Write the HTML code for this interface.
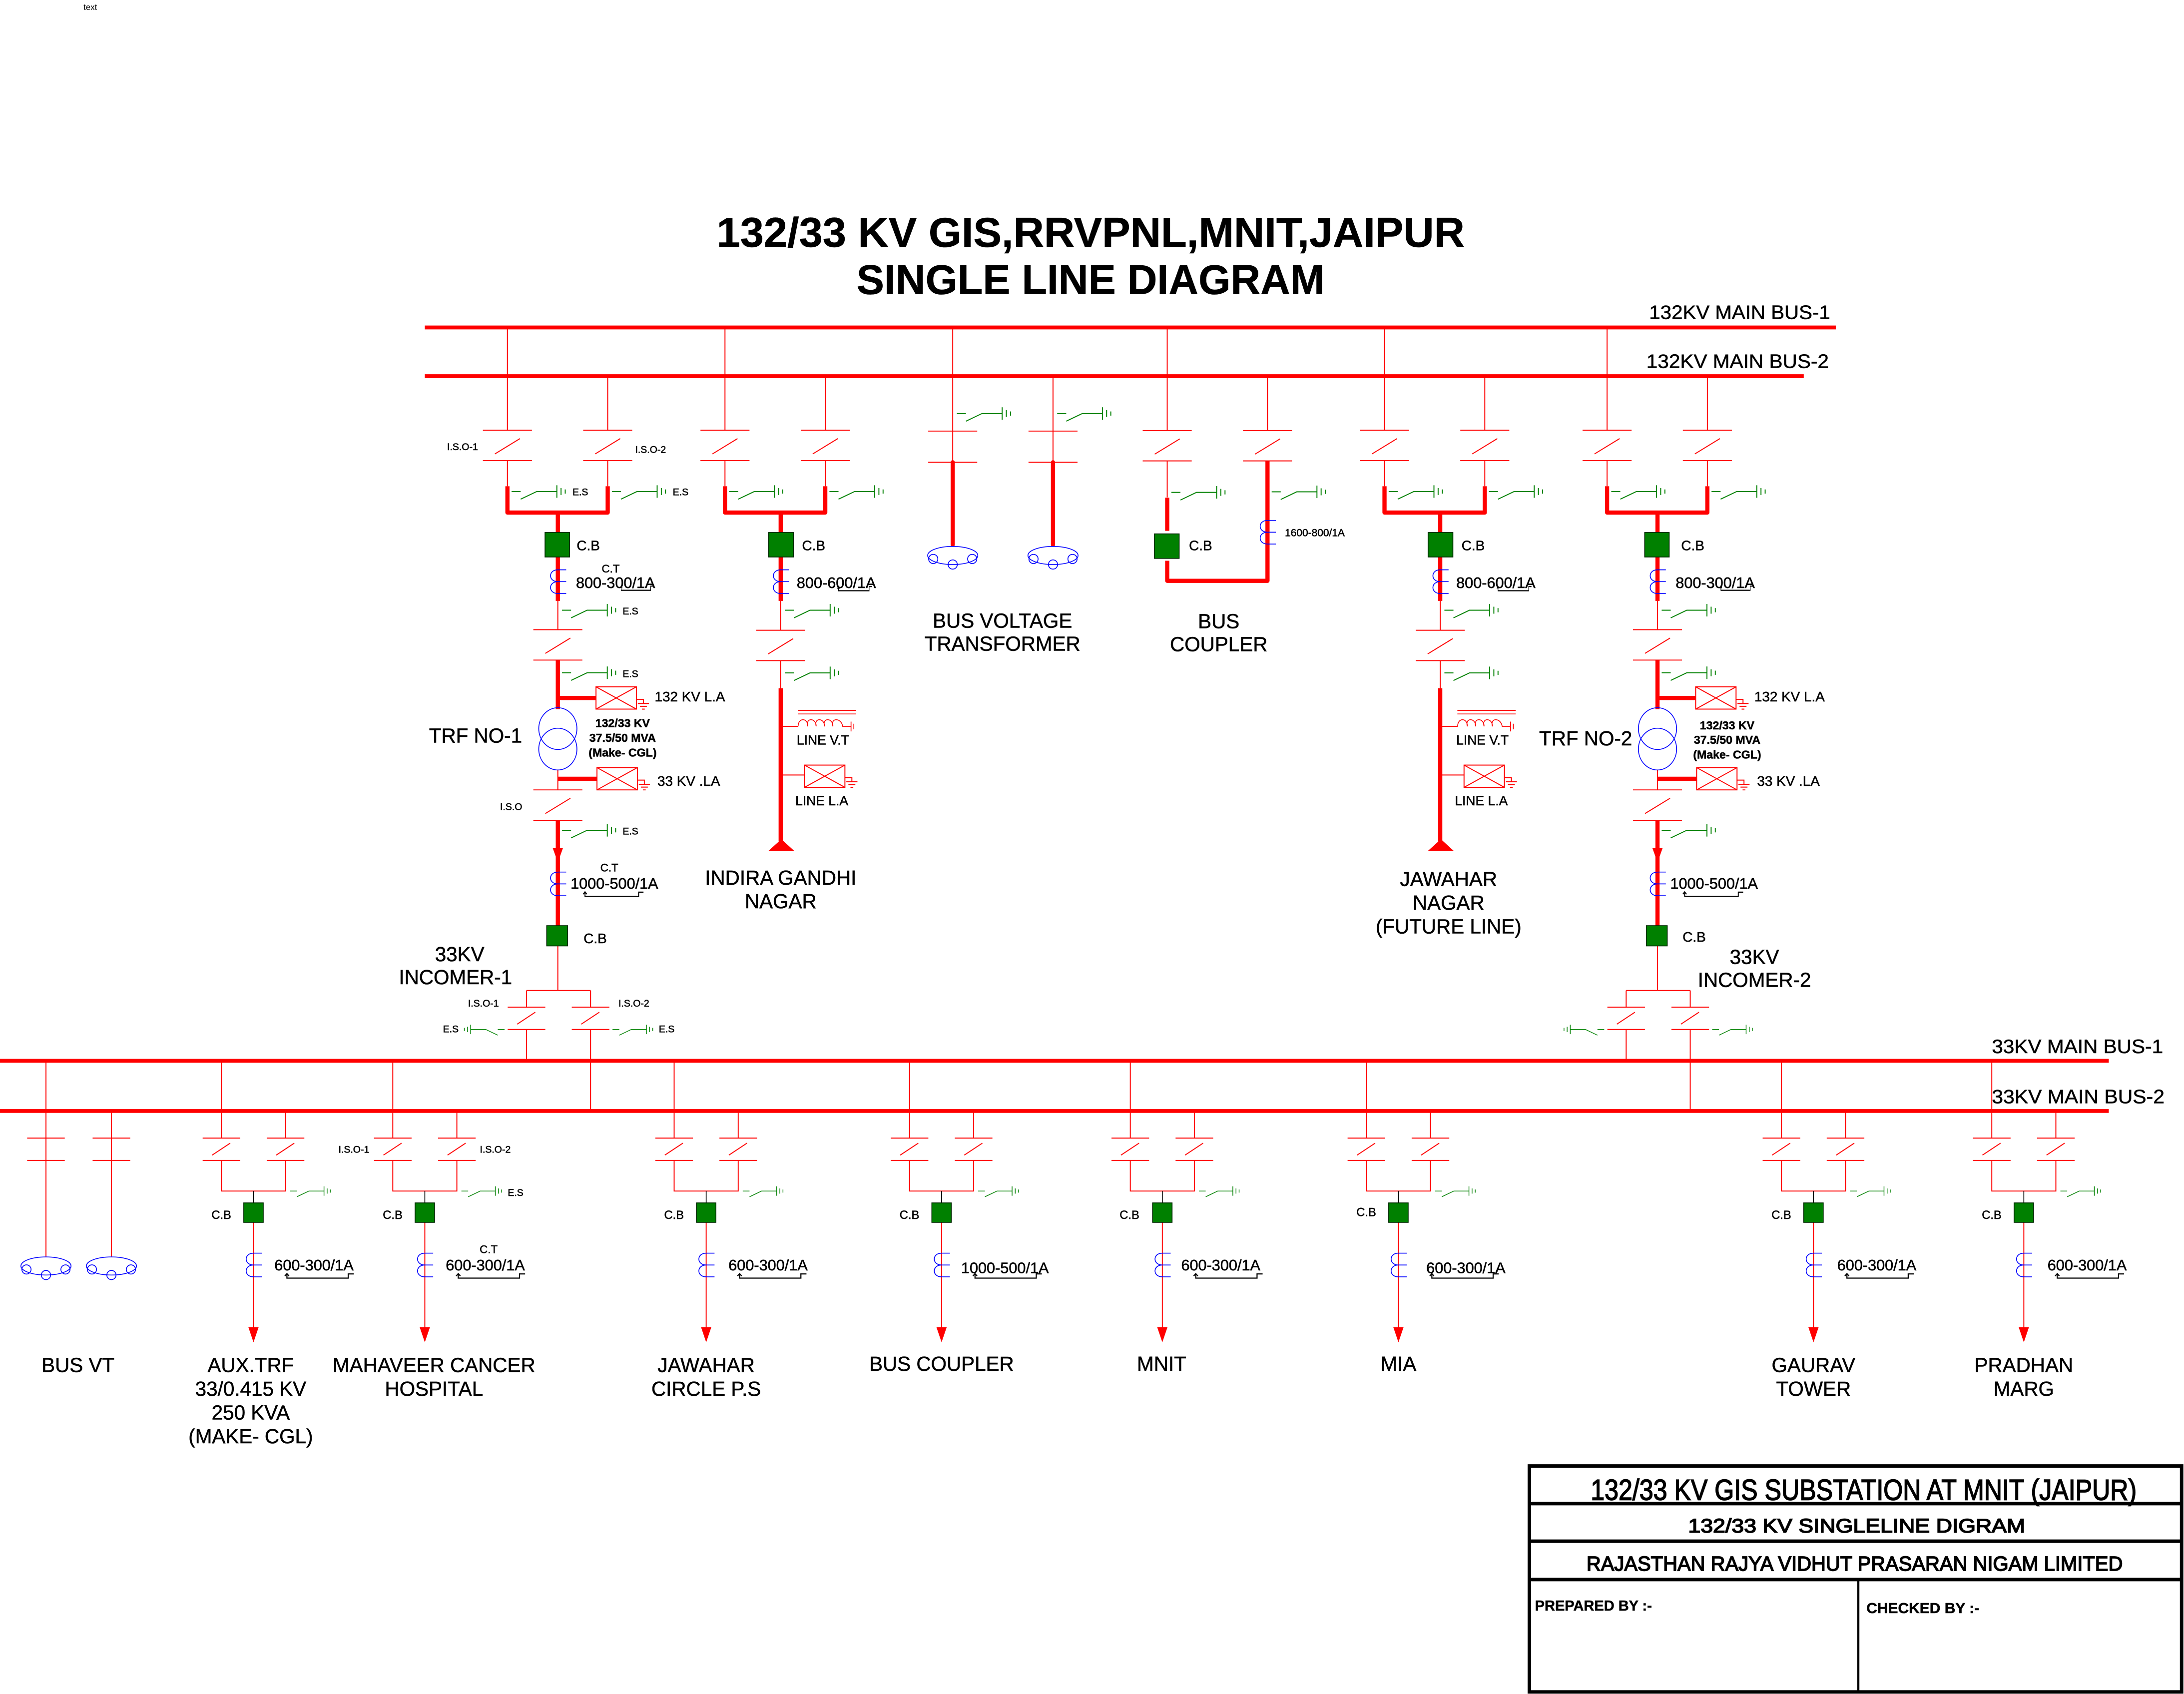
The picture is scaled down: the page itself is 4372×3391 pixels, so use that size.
<!DOCTYPE html>
<html><head><meta charset="utf-8"><style>
html,body{margin:0;padding:0;background:#fff}
svg{display:block}
text{font-family:"Liberation Sans",Arial,sans-serif;fill:#000;stroke:#000;stroke-width:0.2}
.tb{stroke-width:0.6}
</style></head><body>
<svg width="4372" height="3391" viewBox="0 0 1568 1216" xmlns="http://www.w3.org/2000/svg">
<defs>
<g id="es" fill="none" stroke="#008000" stroke-width="0.7"><path d="M3,0H9.5 M9.5,5.5L21,0H35.5 M35.5,-4.5V4.5 M38.5,-2.5V2.5 M41.5,-1.5V1.5"/></g>
<g id="iso" fill="none" stroke="#ff0000" stroke-width="0.7"><path d="M-17.6,0H17.6 M-17.6,21.8H17.6 M-9,17L9,6"/></g>
<g id="isoN" fill="none" stroke="#ff0000" stroke-width="0.7"><path d="M-17.6,0H17.6 M-17.6,22.4H17.6"/></g>
<g id="iso33" fill="none" stroke="#ff0000" stroke-width="0.7"><path d="M-13.5,0H13.5 M-13.5,16H13.5 M-6.7,12.2L6.3,3.6"/></g>
<g id="iso33N" fill="none" stroke="#ff0000" stroke-width="0.7"><path d="M-13.5,0H13.5 M-13.5,16H13.5"/></g>
<g id="la" fill="none" stroke="#ff0000" stroke-width="0.7"><rect x="0" y="-8" width="29" height="16"/><path d="M0,-8L29,8 M0,8L29,-8 M29,1H34V4 M30,4H38 M31.5,6H36.5 M33,8H35"/></g>
<g id="ct" fill="none" stroke="#0000ff" stroke-width="0.6"><path d="M6,0H0 C-7,0 -7,8.5 0,8.5 H6 M0,8.5 C-7,8.5 -7,17 0,17 H6"/></g>
<g id="ctu" fill="none" stroke="#000" stroke-width="0.8"><path d="M0,-3V0H44V-3H48 M-1.5,-1.5L0,-3.2L1.5,-1.5"/></g>
<g id="vt" fill="none" stroke="#0000ff" stroke-width="0.6"><ellipse cx="0" cy="0" rx="18" ry="6.5"/><circle cx="-14" cy="2.5" r="3.3"/><circle cx="0" cy="6.5" r="3.3"/><circle cx="14" cy="2.5" r="3.3"/></g>
<g id="fdr">
<path d="M-23,761.5V817 M23,797.5V817 M-23,833V855H23V833 M0,877.6V953" fill="none" stroke="#ff0000" stroke-width="0.7"/>
<use href="#iso33" x="-23" y="817"/><use href="#iso33" x="23" y="817"/>
<path d="M0,855V863.5" stroke="#000" stroke-width="0.6"/>
<rect x="-7" y="863.5" width="14" height="14" fill="#008000" stroke="#002800" stroke-width="0.6"/>
<use href="#ct" y="899.6"/>
<path d="M-3.7,952.7H3.7L0,963.6Z" fill="#ff0000"/>
<use href="#es" transform="translate(24,855) scale(0.75)"/>
<use href="#ctu" transform="translate(24,917.5)"/>
</g>
</defs>

<text x="60" y="7" font-size="6" style="stroke-width:0">text</text>
<text x="783" y="177" font-size="30" font-weight="bold" text-anchor="middle" textLength="537" lengthAdjust="spacingAndGlyphs">132/33 KV GIS,RRVPNL,MNIT,JAIPUR</text>
<text x="783" y="211" font-size="30" font-weight="bold" text-anchor="middle" textLength="336" lengthAdjust="spacingAndGlyphs">SINGLE LINE DIAGRAM</text>

<path d="M305,235H1318 M305,270H1295" stroke="#ff0000" stroke-width="2.8"/>
<text x="1184" y="229" font-size="14" textLength="130" lengthAdjust="spacingAndGlyphs">132KV MAIN BUS-1</text>
<text x="1182" y="264" font-size="14" textLength="131" lengthAdjust="spacingAndGlyphs">132KV MAIN BUS-2</text>

<g id="trf">
<path d="M364.3,235V308.8 M436.3,270V308.8 M364.3,330.6V349 M436.3,330.6V349 M400.5,431.3V452 M400.5,552.7V567 M400.5,679V711" fill="none" stroke="#ff0000" stroke-width="0.7"/>
<use href="#iso" x="364.3" y="308.8"/><use href="#iso" x="436.3" y="308.8"/>
<use href="#es" x="364.3" y="352.8"/><use href="#es" x="436.3" y="352.8"/>
<path d="M364.3,349V367.9H436.3V349 M400.5,367.9V382.2 M400.5,399.8V431.3 M400.5,473.5V509 M400.5,501H427.9 M400.5,559H428.6 M400.5,588.5V664.5" fill="none" stroke="#ff0000" stroke-width="3" stroke-linejoin="round"/>
<rect x="391.3" y="382.2" width="17.6" height="17.6" fill="#008000" stroke="#002800" stroke-width="0.6"/>
<use href="#ct" x="400.5" y="409"/>
<use href="#es" x="400.5" y="438"/>
<use href="#iso" x="400.5" y="452"/>
<use href="#es" x="400.5" y="482.9"/>
<use href="#la" x="427.9" y="501"/>
<ellipse cx="400.5" cy="523" rx="13.7" ry="15" fill="none" stroke="#0000ff" stroke-width="0.6"/>
<ellipse cx="400.5" cy="537.7" rx="13.7" ry="15" fill="none" stroke="#0000ff" stroke-width="0.6"/>
<use href="#la" x="428.6" y="559"/>
<use href="#iso" x="400.5" y="567"/>
<use href="#es" x="400.5" y="596"/>
<path d="M396.8,608.7H404.2L400.5,619Z" fill="#ff0000"/>
<use href="#ct" x="400.5" y="626"/>
<rect x="392.5" y="664.5" width="15" height="14.5" fill="#008000" stroke="#002800" stroke-width="0.6"/>
<path d="M378,711H424 M378,711V723 M424,711V723 M378,739V761.5 M424,739V797.5" fill="none" stroke="#ff0000" stroke-width="0.7"/>
<use href="#iso33" x="378" y="723"/><use href="#iso33" x="424" y="723"/>
<use href="#es" transform="translate(364.5,739) scale(-0.75,0.75)"/>
<use href="#es" transform="translate(437.5,739) scale(0.75)"/>
<use href="#ctu" transform="translate(446,423.7) scale(0.48,1)"/>
<use href="#ctu" transform="translate(420,643.4) scale(0.875,1)"/>
<text x="413.5" y="422" font-size="11">800-300/1A</text>
<text x="409.6" y="638" font-size="11">1000-500/1A</text>
<text x="470" y="503.5" font-size="10">132 KV L.A</text>
<text x="472" y="564" font-size="10">33 KV .LA</text>
</g>
<use href="#trf" x="789.5"/>

<g font-size="7">
<text x="321" y="323">I.S.O-1</text><text x="456" y="325">I.S.O-2</text>
<text x="411" y="355.5">E.S</text><text x="483" y="355.5">E.S</text>
<text x="447" y="441">E.S</text><text x="447" y="486">E.S</text>
<text x="359" y="581.5">I.S.O</text><text x="447" y="599">E.S</text>
<text x="336" y="722.5">I.S.O-1</text><text x="444" y="722.5">I.S.O-2</text>
<text x="318" y="741">E.S</text><text x="473" y="741">E.S</text>
</g>
<text x="414" y="395" font-size="10">C.B</text>
<text x="432" y="411" font-size="8">C.T</text>
<text x="431" y="625.5" font-size="8">C.T</text>
<text x="419" y="677" font-size="10">C.B</text>
<g font-size="8.3" font-weight="bold" text-anchor="middle">
<text x="447" y="522">132/33 KV</text><text x="447" y="532.5">37.5/50 MVA</text><text x="447" y="543">(Make- CGL)</text>
<text x="1240" y="523.5">132/33 KV</text><text x="1240" y="534">37.5/50 MVA</text><text x="1240" y="544.5">(Make- CGL)</text>
</g>
<text x="308" y="533" font-size="14.5">TRF NO-1</text>
<text x="1105" y="535" font-size="14.5">TRF NO-2</text>
<text x="330" y="690" font-size="14.5" text-anchor="middle">33KV</text>
<text x="327" y="706.5" font-size="14.5" text-anchor="middle">INCOMER-1</text>
<text x="1207" y="395" font-size="10">C.B</text>
<text x="1208" y="676" font-size="10">C.B</text>
<text x="1259.6" y="692" font-size="14.5" text-anchor="middle">33KV</text>
<text x="1259.6" y="708.5" font-size="14.5" text-anchor="middle">INCOMER-2</text>

<g id="line">
<path d="M520.5,235V308.8 M592.5,270V308.8 M520.5,330.6V349 M592.5,330.6V349 M560.5,431.3V452.4 M560.5,474V494 M560.5,521.4H573 M560.5,556.3H577.6" fill="none" stroke="#ff0000" stroke-width="0.7"/>
<use href="#iso" x="520.5" y="308.8"/><use href="#iso" x="592.5" y="308.8"/>
<use href="#es" x="520.5" y="352.8"/><use href="#es" x="592.5" y="352.8"/>
<path d="M520.5,349V367.9H592.5V349 M560.5,367.9V382.2 M560.5,399.8V431.3 M560.5,494V604" fill="none" stroke="#ff0000" stroke-width="3" stroke-linejoin="round"/>
<rect x="551.8" y="382.2" width="17.8" height="17.6" fill="#008000" stroke="#002800" stroke-width="0.6"/>
<use href="#ct" x="560.5" y="409"/>
<use href="#es" x="560.5" y="438"/>
<use href="#iso" x="560.5" y="452.4"/>
<use href="#es" x="560.5" y="483"/>
<path d="M551.8,610.7H570.1L561,602.4Z" fill="#ff0000"/>
<path d="M572.8,510H614.7 M572.8,512.5H614.7 M573,521.4 C573,515 580,515 580,521.4 C578,515 586,515 586,521.4 M586,521.4 C584,515 592,515 592,521.4 C590,515 598,515 598,521.4 C596,515 604,515 605,521.4 H611 V518 M611,518V525 M613,519.5V523.5" fill="none" stroke="#ff0000" stroke-width="0.6"/>
<use href="#la" x="577.6" y="557.2"/>
<use href="#ctu" transform="translate(602,424) scale(0.5,1)"/>
<text x="575.8" y="395" font-size="10">C.B</text>
<text x="572" y="422" font-size="11">800-600/1A</text>
<text x="572" y="534.5" font-size="9.5">LINE V.T</text>
<text x="571" y="578" font-size="9.5">LINE L.A</text>
</g>
<use href="#line" x="473.5"/>
<text x="560.5" y="635" font-size="14.5" text-anchor="middle">INDIRA GANDHI</text>
<text x="560.5" y="652" font-size="14.5" text-anchor="middle">NAGAR</text>
<text x="1040" y="636" font-size="14.5" text-anchor="middle">JAWAHAR</text>
<text x="1040" y="653" font-size="14.5" text-anchor="middle">NAGAR</text>
<text x="1040" y="670" font-size="14.5" text-anchor="middle">(FUTURE LINE)</text>

<path d="M684,235V309.4 M756,270V309.4 M684,309.4V331.8 M756,309.4V331.8" fill="none" stroke="#ff0000" stroke-width="0.7"/>
<use href="#isoN" x="684" y="309.4"/><use href="#isoN" x="756" y="309.4"/>
<use href="#es" x="684" y="296.8"/><use href="#es" x="756" y="296.8"/>
<path d="M684,331.8V391 M756,331.8V391" stroke="#ff0000" stroke-width="3" stroke-linecap="round"/>
<use href="#vt" x="684" y="398.7"/><use href="#vt" x="756" y="398.7"/>
<text x="719.7" y="450.5" font-size="14.5" text-anchor="middle">BUS VOLTAGE</text>
<text x="719.7" y="467" font-size="14.5" text-anchor="middle">TRANSFORMER</text>

<path d="M838,235V309 M910,270V309 M838,331V357" fill="none" stroke="#ff0000" stroke-width="0.7"/>
<use href="#iso" x="838" y="309"/><use href="#iso" x="910" y="309"/>
<use href="#es" x="838" y="353.4"/><use href="#es" x="910" y="353"/>
<path d="M838,357.2V381 M838,402.5V416.9H910V331" fill="none" stroke="#ff0000" stroke-width="3" stroke-linejoin="round"/>
<rect x="828.8" y="383.2" width="17.8" height="17.6" fill="#008000" stroke="#002800" stroke-width="0.6"/>
<use href="#ct" x="910" y="373.5"/>
<text x="853.6" y="395" font-size="10">C.B</text>
<text x="922.5" y="385" font-size="7.5">1600-800/1A</text>
<text x="875" y="451" font-size="14.5" text-anchor="middle">BUS</text>
<text x="875" y="467.5" font-size="14.5" text-anchor="middle">COUPLER</text>

<path d="M0,761.5H1514 M0,797.5H1514" stroke="#ff0000" stroke-width="2.8"/>
<text x="1430" y="756" font-size="14" textLength="123" lengthAdjust="spacingAndGlyphs">33KV MAIN BUS-1</text>
<text x="1430" y="792" font-size="14" textLength="124" lengthAdjust="spacingAndGlyphs">33KV MAIN BUS-2</text>

<path d="M33,761.5V902 M80,797.5V902" fill="none" stroke="#ff0000" stroke-width="0.7"/>
<use href="#iso33N" x="33" y="817"/><use href="#iso33N" x="80" y="817"/>
<use href="#vt" x="33" y="908.8"/><use href="#vt" x="80" y="908.8"/>
<text x="56" y="985" font-size="14.5" text-anchor="middle">BUS VT</text>

<use href="#fdr" x="182"/>
<use href="#fdr" x="305"/>
<use href="#fdr" x="507"/>
<use href="#fdr" x="676"/>
<use href="#fdr" x="834.5"/>
<use href="#fdr" x="1004"/>
<use href="#fdr" x="1302"/>
<use href="#fdr" x="1453"/>
<g font-size="8.5" text-anchor="end">
<text x="166" y="875">C.B</text><text x="289" y="875">C.B</text><text x="491" y="875">C.B</text><text x="660" y="875">C.B</text>
<text x="818" y="875">C.B</text><text x="988" y="873">C.B</text><text x="1286" y="875">C.B</text><text x="1437" y="875">C.B</text>
</g>
<g font-size="11">
<text x="197" y="912">600-300/1A</text><text x="320" y="912">600-300/1A</text><text x="523" y="912">600-300/1A</text>
<text x="690" y="914">1000-500/1A</text><text x="848" y="912">600-300/1A</text><text x="1024" y="914">600-300/1A</text>
<text x="1319" y="912">600-300/1A</text><text x="1470" y="912">600-300/1A</text>
</g>
<g font-size="7"><text x="243" y="827.5">I.S.O-1</text><text x="344.5" y="827.5">I.S.O-2</text><text x="364.5" y="858.5">E.S</text></g>
<text x="350.8" y="899.5" font-size="8" text-anchor="middle">C.T</text>
<g font-size="14.5" text-anchor="middle">
<text x="180" y="985">AUX.TRF</text><text x="180" y="1002">33/0.415 KV</text><text x="180" y="1019">250 KVA</text><text x="180" y="1036">(MAKE- CGL)</text>
<text x="311.6" y="985">MAHAVEER CANCER</text><text x="311.6" y="1002">HOSPITAL</text>
<text x="507" y="985">JAWAHAR</text><text x="507" y="1002">CIRCLE P.S</text>
<text x="676" y="984">BUS COUPLER</text>
<text x="834" y="984">MNIT</text>
<text x="1004" y="984">MIA</text>
<text x="1302" y="985">GAURAV</text><text x="1302" y="1002">TOWER</text>
<text x="1453" y="985">PRADHAN</text><text x="1453" y="1002">MARG</text>
</g>

<g fill="none" stroke="#000" stroke-width="2.5">
<rect x="1098" y="1052.4" width="468.3" height="162.2"/>
<path d="M1098,1079.4H1566.3 M1098,1106.4H1566.3 M1098,1133.9H1566.3"/>
<path d="M1334.2,1133.9V1214.6" stroke-width="1.5"/>
</g>
<text class="tb" x="1142" y="1076.7" font-size="21" textLength="392" lengthAdjust="spacingAndGlyphs">132/33 KV GIS SUBSTATION AT MNIT (JAIPUR)</text>
<text class="tb" x="1212" y="1100" font-size="14" textLength="242" lengthAdjust="spacingAndGlyphs">132/33 KV SINGLELINE DIGRAM</text>
<text class="tb" x="1139" y="1127.5" font-size="14.5" textLength="385" lengthAdjust="spacingAndGlyphs">RAJASTHAN RAJYA VIDHUT PRASARAN NIGAM LIMITED</text>
<text x="1102" y="1156.2" font-size="10.3" font-weight="bold" textLength="84" lengthAdjust="spacingAndGlyphs">PREPARED BY :-</text>
<text x="1340" y="1158" font-size="10.3" font-weight="bold" textLength="81" lengthAdjust="spacingAndGlyphs">CHECKED BY :-</text>
</svg>
</body></html>
